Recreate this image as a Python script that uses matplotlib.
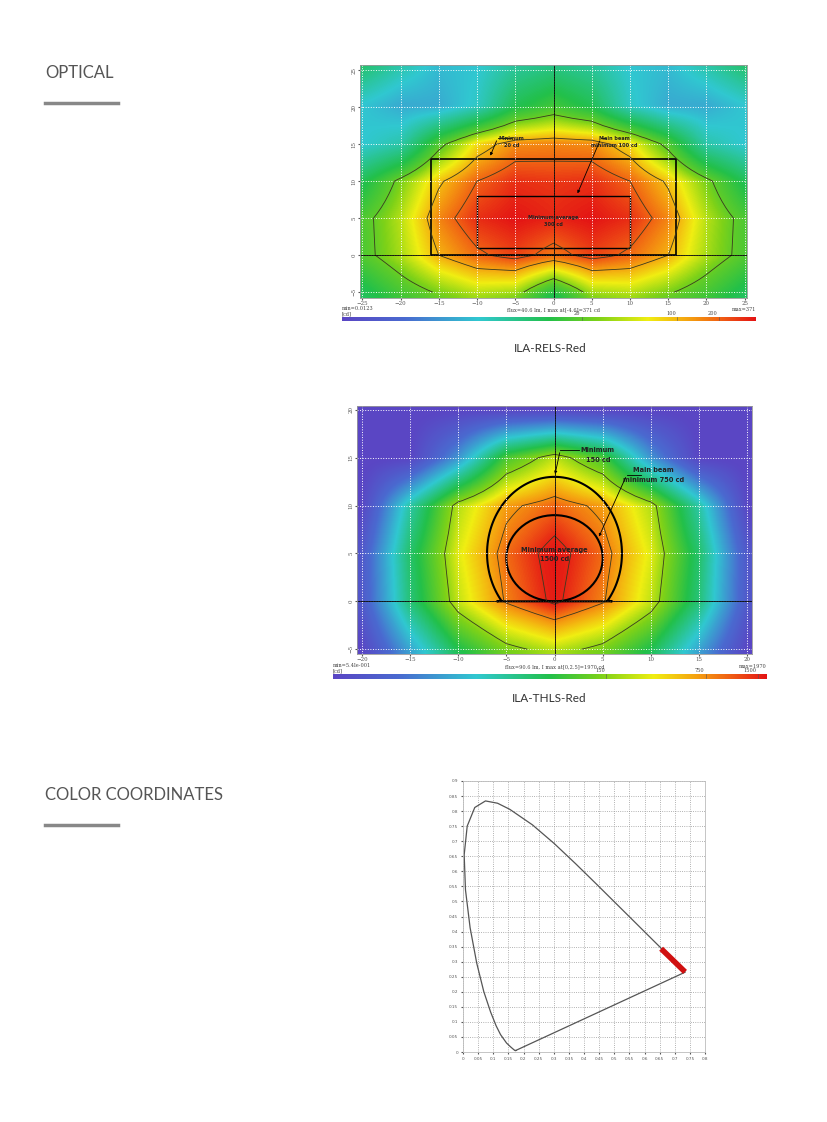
import numpy as np
import matplotlib
matplotlib.use("Agg")
import matplotlib.pyplot as plt
from matplotlib.colors import LinearSegmentedColormap
from matplotlib.patches import Rectangle, Ellipse, Polygon

W, H = 827, 1122
fig = plt.figure(figsize=(W/100, H/100), dpi=100)
fig.patch.set_facecolor("white")

# ---------------- data ----------------
rels_x = [-25, -20, -15, -10, -5, 0, 5, 10, 15, 20, 25]
rels_y = [-5, 0, 5, 10, 15, 20, 25]
rels_cd = [
    [5, 12, 22, 35, 28, 6, 28, 35, 22, 12, 5],
    [15, 35, 100, 180, 250, 160, 250, 180, 100, 35, 15],
    [15, 40, 150, 300, 370, 320, 370, 300, 150, 40, 15],
    [6, 25, 90, 200, 300, 280, 300, 200, 90, 25, 6],
    [0.8, 1.5, 15, 70, 140, 150, 140, 70, 15, 1.5, 0.8],
    [0.8, 0.4, 0.4, 1, 6, 12, 6, 1, 0.4, 0.4, 0.8],
    [4, 1.5, 0.6, 0.8, 2, 3, 2, 0.8, 0.6, 1.5, 4],
]
rels_scale_cd = [0.0123, 20, 100, 200, 371]
rels_scale_pos = [0, 0.58, 0.81, 0.91, 1]
rels_ticks = [20, 100, 200]
rels_levels = [20, 100, 200]

thls_x = [-20, -15, -10, -5, 0, 5, 10, 15, 20]
thls_y = [-5, 0, 5, 10, 15, 20]
thls_cd = [
    [0.5, 5, 40, 120, 200, 120, 40, 5, 0.5],
    [1, 25, 220, 800, 1700, 800, 220, 25, 1],
    [1, 30, 280, 950, 1900, 950, 280, 30, 1],
    [0.5, 15, 200, 650, 1000, 650, 200, 15, 0.5],
    [0.5, 0.5, 4, 70, 220, 70, 4, 0.5, 0.5],
    [0.5, 0.5, 0.5, 0.5, 0.5, 0.5, 0.5, 0.5, 0.5],
]
thls_scale_cd = [0.54, 150, 750, 1500, 1970]
thls_scale_pos = [0, 0.63, 0.86, 0.98, 1]
thls_ticks = [150, 750, 1500]
thls_levels = [150, 750, 1500]

locus_x = [0.1741, 0.1714, 0.1644, 0.1566, 0.1440, 0.1241, 0.1096, 0.0913, 0.0687, 0.0454,
           0.0235, 0.0082, 0.0039, 0.0139, 0.0389, 0.0743, 0.1142, 0.1547, 0.2296, 0.3016,
           0.3731, 0.4441, 0.5125, 0.5752, 0.6270, 0.6658, 0.6915, 0.7079, 0.7190, 0.7260, 0.7347]
locus_y = [0.0050, 0.0051, 0.0109, 0.0177, 0.0297, 0.0578, 0.0868, 0.1327, 0.2007, 0.2950,
           0.4127, 0.5384, 0.6548, 0.7502, 0.8120, 0.8338, 0.8262, 0.8059, 0.7543, 0.6923,
           0.6245, 0.5547, 0.4866, 0.4242, 0.3725, 0.3340, 0.3083, 0.2920, 0.2809, 0.2740, 0.2653]
red_x = [0.655, 0.734]
red_y = [0.343, 0.266]

cmap = LinearSegmentedColormap.from_list("ila", [
    (0.0, "#5a46c4"), (0.15, "#4a6ad0"), (0.33, "#30c8d0"), (0.5, "#22c04a"),
    (0.62, "#7ed218"), (0.74, "#f0ee12"), (0.84, "#f5a010"), (0.92, "#f05c14"), (1.0, "#e41414")])


def ax_px(l, t, r, b):
    return fig.add_axes([l/W, 1-b/H, (r-l)/W, (b-t)/H])


def upsample(xs, ys, vals, step=0.5):
    xs = np.array(xs, float); ys = np.array(ys, float)
    lv = np.log10(np.array(vals, float))
    fx = np.arange(xs[0], xs[-1]+1e-9, step)
    fy = np.arange(ys[0], ys[-1]+1e-9, step)
    tmp = np.array([np.interp(fx, xs, row) for row in lv])
    out = np.array([np.interp(fy, ys, tmp[:, j]) for j in range(len(fx))]).T
    return fx, fy, 10**out


def heatmap(box, xs, ys, vals, scale_cd, scale_pos, xlim, ylim, levels, tick_step):
    ax = ax_px(*box)
    fx, fy, F = upsample(xs, ys, vals)
    lc = np.log10(scale_cd)
    N = np.interp(np.log10(F), lc, scale_pos)
    ax.imshow(N, origin="lower", extent=[xlim[0], xlim[1], ylim[0], ylim[1]], cmap=cmap,
              vmin=0, vmax=1, interpolation="bilinear", aspect="auto")
    ax.contour(fx, fy, F, levels=levels, colors="#3a3a20", linewidths=0.6)
    ax.set_xlim(*xlim); ax.set_ylim(*ylim)
    ax.axhline(0, color="black", lw=0.6); ax.axvline(0, color="black", lw=0.6)
    ax.set_xticks(np.arange(xs[0], xs[-1]+1, tick_step))
    ax.set_yticks(np.arange(ys[0], ys[-1]+1, tick_step))
    ax.grid(True, color="white", ls=":", lw=0.7)
    ax.tick_params(labelsize=4, length=1.5, colors="#555", pad=1)
    for lab in ax.get_yticklabels():
        lab.set_rotation(90); lab.set_va("center")
    for lab in ax.get_xticklabels() + ax.get_yticklabels():
        lab.set_family("DejaVu Serif")
    for s in ax.spines.values():
        s.set_color("#999"); s.set_linewidth(0.6)
    return ax


def colorbar(box, scale_cd, scale_pos, ticks, minlab, maxlab, mid, axbox):
    cax = ax_px(*box)
    cax.imshow(np.linspace(0, 1, 256)[None, :], cmap=cmap, aspect="auto", extent=[0, 1, 0, 1])
    cax.set_xlim(0, 1); cax.set_ylim(0, 1); cax.axis("off")
    lc = np.log10(scale_cd)
    for t in ticks:
        p = np.interp(np.log10(t), lc, scale_pos)
        cax.plot([p, p], [0.3, 1.0], color="#555", lw=0.4)
        cax.text(p - 0.004, 1.3, str(t), fontsize=3.6, family="DejaVu Serif", color="#444",
                 ha="right", va="bottom")
    y = (H - box[1] + 1) / H
    fig.text(box[0]/W, y, minlab, fontsize=3.6, family="DejaVu Serif", color="#444",
             va="bottom", linespacing=1.0)
    fig.text(box[2]/W, y + 4/H, maxlab, fontsize=3.6, family="DejaVu Serif", color="#444",
             va="bottom", ha="right")
    fig.text((axbox[0]+axbox[2])/2/W, y + 4/H, mid, fontsize=3.6, family="DejaVu Serif",
             color="#444", va="bottom", ha="center")


# ---------------- left titles ----------------
for txt, ty, ly in [("OPTICAL", 73, 103), ("COLOR COORDINATES", 795, 825)]:
    fig.text(45/W, 1-ty/H, txt, fontsize=12, family="Lato", color="#555", va="center")
    fig.add_artist(plt.Line2D([45/W, 118/W], [1-ly/H]*2, color="#888", lw=2.5))

# ---------------- heatmap 1 ----------------
b1 = (360, 65, 747, 298)
ax1 = heatmap(b1, rels_x, rels_y, rels_cd, rels_scale_cd, rels_scale_pos,
              (-25.3, 25.3), (-5.8, 25.7), rels_levels, 5)
ax1.add_patch(Rectangle((-16, 0), 32, 13, fill=False, lw=1.2, ec="black"))
ax1.add_patch(Rectangle((-10, 1), 20, 7, fill=False, lw=1.0, ec="black"))
kw = dict(fontsize=3.6, fontweight="bold", ha="center", va="center", color="#222", linespacing=1.6)
ax1.text(-5.5, 15.3, "Minimum\n20 cd", **kw)
ax1.text(8, 15.3, "Main beam\nminimum 100 cd", **kw)
ax1.text(0, 4.6, "Minimum average\n300 cd", **kw)
ax1.plot([-5.5, -7.3], [15.8, 15.8], color="black", lw=0.6)
ax1.annotate("", xy=(-8.4, 13.1), xytext=(-7.3, 15.8),
             arrowprops=dict(arrowstyle="-|>", lw=0.6, color="black", mutation_scale=4))
ax1.plot([6.2, 6.7], [15.8, 15.8], color="black", lw=0.6)
ax1.annotate("", xy=(3, 8), xytext=(6.2, 15.8),
             arrowprops=dict(arrowstyle="-|>", lw=0.6, color="black", mutation_scale=4))
colorbar((342, 317, 756, 321), rels_scale_cd, rels_scale_pos, rels_ticks,
         "min=0.0123\n[cd]", "max=371", "flux=40.6 lm, I max at[-4.6]=371 cd", b1)
fig.text(550/W, 1-348/H, "ILA-RELS-Red", fontsize=8.5, family="Lato", color="#333",
         ha="center", va="center")

# ---------------- heatmap 2 ----------------
b2 = (357, 406, 752, 654)
ax2 = heatmap(b2, thls_x, thls_y, thls_cd, thls_scale_cd, thls_scale_pos,
              (-20.5, 20.5), (-5.5, 20.4), thls_levels, 5)
th = np.linspace(np.radians(-38), np.radians(218), 120)
px = list(7*np.cos(th)); py = list(5 + 8*np.sin(th))
outline = np.column_stack([[6] + px + [-6], [0] + py + [0]])
ax2.add_patch(Polygon(outline, closed=True, fill=False, lw=1.5, ec="black"))
ax2.add_patch(Ellipse((0, 4.5), 10, 9, fill=False, lw=1.5, ec="black"))
kw2 = dict(fontsize=4.8, fontweight="bold", ha="center", va="center", color="#222", linespacing=1.7)
ax2.text(4.5, 15.3, "Minimum\n150 cd", **kw2)
ax2.text(10.3, 13.2, "Main beam\nminimum 750 cd", **kw2)
ax2.text(0, 4.9, "Minimum average\n1500 cd", **kw2)
ax2.plot([2.5, 0.6], [15.8, 15.8], color="black", lw=0.6)
ax2.annotate("", xy=(0, 13), xytext=(0.6, 15.8),
             arrowprops=dict(arrowstyle="-|>", lw=0.6, color="black", mutation_scale=4))
ax2.plot([9, 7.5], [13.2, 13.2], color="black", lw=0.6)
ax2.annotate("", xy=(4.5, 6.5), xytext=(7.5, 13.2),
             arrowprops=dict(arrowstyle="-|>", lw=0.6, color="black", mutation_scale=4))
colorbar((333, 674, 767, 679), thls_scale_cd, thls_scale_pos, thls_ticks,
         "min=5.4le-001\n[cd]", "max=1970", "flux=90.6 lm, I max at[0,2.5]=1970 cd", b2)
fig.text(549/W, 1-698/H, "ILA-THLS-Red", fontsize=8.5, family="Lato", color="#333",
         ha="center", va="center")

# ---------------- CIE ----------------
ax3 = ax_px(463, 781, 705, 1052)
ax3.plot(locus_x + [locus_x[0]], locus_y + [locus_y[0]], color="#555", lw=0.9)
ax3.plot(red_x, red_y, color="#d01010", lw=4, solid_capstyle="butt")
ax3.set_xlim(0, 0.8); ax3.set_ylim(0, 0.9)
xt = np.round(np.arange(0, 0.801, 0.05), 2); yt = np.round(np.arange(0, 0.901, 0.05), 2)
ax3.set_xticks(xt); ax3.set_yticks(yt)
ax3.set_xticklabels([f"{v:g}" for v in xt]); ax3.set_yticklabels([f"{v:g}" for v in yt])
ax3.grid(True, color="#999", ls=":", lw=0.6)
ax3.tick_params(labelsize=3, length=1.5, colors="#555", pad=2)
for s in ax3.spines.values():
    s.set_color("#bbb"); s.set_linewidth(0.6)

fig.savefig("out.png", dpi=100)
